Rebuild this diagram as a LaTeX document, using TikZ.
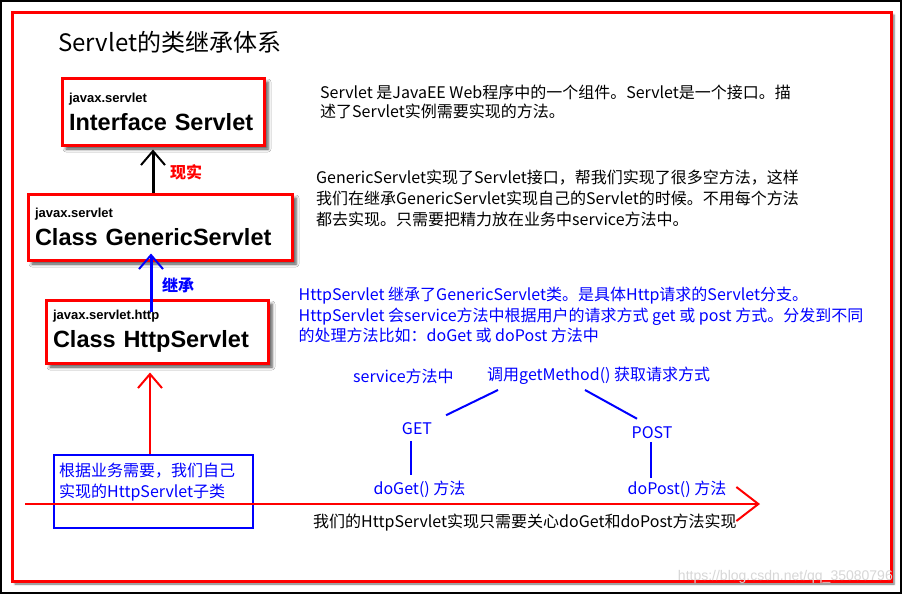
\documentclass[tikz,border=0pt]{standalone}
\usepackage{fontspec}
\setmainfont{Noto Sans CJK SC}
\newfontfamily\arialfont{Liberation Sans}
\usetikzlibrary{arrows.meta}
\usetikzlibrary{shadows.blur}
\usetikzlibrary{calc}
\definecolor{purered}{RGB}{255, 0, 0}
\definecolor{pureblue}{RGB}{0, 0, 255}
\definecolor{shadowgray}{RGB}{90, 90, 90}
\definecolor{markgray}{RGB}{215, 215, 215}
\newcommand{\pkgline}[1]{{\fontsize{13}{15}\selectfont #1}}

\begin{document}
\begin{tikzpicture}[x = 1pt, y = -1pt,
			clsbox/.style = {draw = purered, line width = 3pt, fill = white, align = left, inner xsep = 7pt, inner ysep = 0pt, font = \arialfont\bfseries\fontsize{23.5}{28}\selectfont, blur shadow = {shadow xshift = 4pt, shadow yshift = -4pt, shadow blur radius = 3pt, shadow opacity = 70}},
			txt/.style = {anchor = west, inner sep = 0pt, align = left, font = \fontsize{16}{21}\selectfont},
			lbl/.style = {inner sep = 0pt, text = pureblue, font = \fontsize{16}{20}\selectfont},
			treeline/.style = {draw = pureblue, line width = 2pt},
			uparrow/.style = {-{Straight Barb[length = 14pt, width = 24pt, line width = 2pt]}, line width = 3pt}]
			\useasboundingbox (0,0) rectangle (904,595);
			\draw [line width = 2pt] (1,1) rectangle (901,593);
			\draw [draw = purered, line width = 3pt, fill = white, blur shadow = {shadow xshift = 3pt, shadow yshift = -3pt, shadow blur radius = 2pt, shadow opacity = 60}] (12,12) rectangle (891,581);
			\node (title) at (58,42) [txt, font = \fontsize{24}{28}\selectfont] {Servlet的类继承体系};
			\node (iface) at (163,111.5) [clsbox, text width = 188pt, minimum height = 67pt] {\pkgline{javax.servlet}\\Interface Servlet};
			\node (generic) at (160,227) [clsbox, text width = 250pt, minimum height = 66pt] {\pkgline{javax.servlet}\\Class GenericServlet};
			\node (http) at (157,331.5) [clsbox, text width = 208pt, minimum height = 63pt] {\pkgline{javax.servlet.http}\\Class HttpServlet};
			\node (ownclass) at (153.5,491.5) [draw = pureblue, line width = 2.5pt, minimum width = 199pt, minimum height = 73pt] {};
			\node (owntext) at (59,482.5) [txt, text = pureblue] {根据业务需要，我们自己\\实现的HttpServlet子类};
			\node (impl) at (170,172) [txt, text = purered, font = \bfseries\fontsize{16}{20}\selectfont] {现实};
			\node (inherit) at (162,285) [txt, text = pureblue, font = \bfseries\fontsize{16}{20}\selectfont] {继承};
			\node (servletdesc) at (320,102) [txt, font = \fontsize{16}{19}\selectfont] {Servlet 是JavaEE Web程序中的一个组件。Servlet是一个接口。描\\述了Servlet实例需要实现的方法。};
			\node (genericdesc) at (316,198.5) [txt] {GenericServlet实现了Servlet接口，帮我们实现了很多空方法，这样\\我们在继承GenericServlet实现自己的Servlet的时候。不用每个方法\\都去实现。只需要把精力放在业务中service方法中。};
			\node (httpdesc) at (298.5,315) [txt, text = pureblue, font = \fontsize{16}{20.5}\selectfont] {HttpServlet 继承了GenericServlet类。是具体Http请求的Servlet分支。\\HttpServlet 会service方法中根据用户的请求方式 get 或 post 方式。分发到不同\\的处理方法比如：doGet 或 doPost 方法中};
			\node (service) at (353,376) [txt, text = pureblue] {service方法中};
			\node (method) at (487,376) [txt, text = pureblue] {调用getMethod() 获取请求方式};
			\node (get) at (417,429) [lbl] {GET};
			\node (post) at (652,433) [lbl] {POST};
			\node (doget) at (419.5,489) [lbl] {doGet() 方法};
			\node (dopost) at (677,489) [lbl] {doPost() 方法};
			\node (note) at (313,523) [txt] {我们的HttpServlet实现只需要关心doGet和doPost方法实现};
			\node (mark) at (893,577) [anchor = east, inner sep = 0pt, text = markgray, font = \arialfont\fontsize{14}{16}\selectfont] {https://blog.csdn.net/qq\_35080796};
			\coordinate (hookpt) at (151,312);
			\coordinate (flowstart) at (25,504);
			\coordinate (flowend) at (760,504);
			\draw [uparrow, shorten > = 3pt] ([xshift = -7pt]generic.north) -- ([xshift = -7pt]generic.north |- iface.south);
			\draw [uparrow, draw = pureblue, shorten > = -8pt] (hookpt) -- (hookpt |- generic.south);
			\draw [uparrow, draw = purered, line width = 2.5pt, shorten > = 8pt] ([xshift = -3.5pt]ownclass.north) -- ([xshift = -3.5pt]ownclass.north |- http.south);
			\draw [draw = purered, line width = 2.5pt, -{Straight Barb[length = 22pt, width = 34pt, line width = 2pt]}] (flowstart) -- (flowend);
			\draw [treeline] ($(method.south west)+(11,5)$) -- ($(get.north)+(29,-7.5)$);
			\draw [treeline] ($(method.south west)+(98,5)$) -- ($(post.north)+(-15,-8)$);
			\draw [treeline, shorten < = 5.5pt, shorten > = 5.5pt] ([xshift = -6pt]get.south) -- ([xshift = -6pt]get.south |- doget.north);
			\draw [treeline, shorten < = 2.5pt, shorten > = 2.5pt] ([xshift = -1.5pt]post.south) -- ([xshift = -1.5pt]post.south |- dopost.north);
\end{tikzpicture}
\end{document}
